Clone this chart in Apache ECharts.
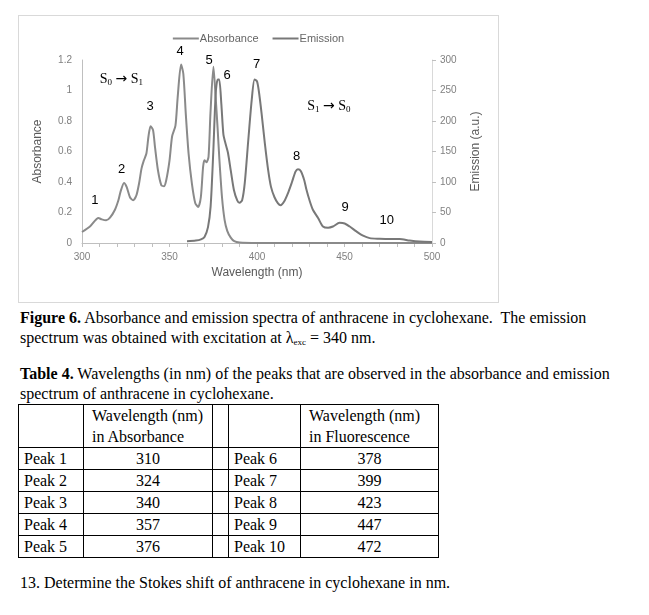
<!DOCTYPE html>
<html><head><meta charset="utf-8">
<script src="https://cdn.jsdelivr.net/npm/echarts@6/dist/echarts.min.js"></script>
<style>
body{margin:0;background:#fff;width:649px;height:615px;overflow:hidden;position:relative;font-family:"Liberation Serif","Times New Roman",serif;color:#000}
#box{position:absolute;left:18px;top:15px;width:479px;height:286px;border:1px solid #d9d9d9;}
#chart{position:absolute;left:18px;top:15px;width:481px;height:288px;}
.txt{position:absolute;left:20px;font-size:16px;line-height:20px;white-space:nowrap}
table{position:absolute;left:18px;top:404px;border-collapse:collapse;table-layout:fixed;width:420px;font-size:16px}
td{border:1px solid #000;padding:0 5px;height:21px;line-height:20px;white-space:nowrap}
td.h{padding-left:8px;line-height:21px}
td.c{text-align:center}
sub.e{font-size:9px;vertical-align:-2px}
</style></head>
<body>
<div id="box"></div>
<div id="chart"></div>
<div class="txt" style="top:308px"><b>Figure 6.</b> Absorbance and emission spectra of anthracene in cyclohexane.&nbsp; The emission<br>spectrum was obtained with excitation at λ<sub class="e">exc</sub> = 340 nm.</div>
<div class="txt" style="top:364px"><b>Table 4.</b> Wavelengths (in nm) of the peaks that are observed in the absorbance and emission<br>spectrum of anthracene in cyclohexane.</div>
<table id="tbl">
<colgroup><col style="width:65px"><col style="width:129px"><col style="width:16px"><col style="width:72px"><col style="width:138px"></colgroup>
</table>
<div class="txt" style="top:573px">13. Determine the Stokes shift of anthracene in cyclohexane in nm.</div>
<script>
// ---- data ----
const absX = [300,304.7,309.4,311.3,313.8,316,318.9,320.8,322,324,325.5,327.4,329.2,331.1,332.6,334,335.3,336.8,338,339.2,340.6,341.7,343.4,345.3,346.8,348.1,350,351.5,353.4,354.7,356.6,357.9,359.4,360.9,362.8,364.7,366.4,367.9,369.2,370,371.1,372.3,373.4,375.1,376.4,377.5,378.5,380,381.5,383,385,387,390,400,450,500];
const absY = [0.072,0.11,0.164,0.155,0.149,0.166,0.22,0.28,0.335,0.394,0.368,0.30,0.28,0.313,0.39,0.488,0.54,0.587,0.70,0.766,0.74,0.63,0.477,0.38,0.372,0.41,0.54,0.70,0.77,0.96,1.17,1.11,0.83,0.587,0.39,0.263,0.236,0.30,0.50,0.543,0.53,0.565,0.85,1.156,0.95,0.75,0.55,0.30,0.15,0.08,0.035,0.012,0.003,0,0,0];
const emX = [360,365,368,370,372,373.5,375,376.4,377.5,378.4,379.6,380.8,382,383.4,385,386.8,388.7,390,391.5,393,395,397,398.6,400,401,402.6,404.5,406.4,408,410,412,413.5,415.5,418,420,422,423.4,425,427,428.2,430,432,434.9,437.7,440.6,443.4,447.2,450.1,453,456.8,460.6,464.4,470,475.8,481.5,487.2,492.9,500];
const emY = [3,4,6,10,26,60,148,245,268,268,229,178,163,148,119,87,70,66,70,98,168,235,268,265,250,213,163,119,92,75,65,62,68,84,100,117,121,118,103,88,70,54,41,27,25,27,33,32,27,19,12,8,7,6.5,6.5,4,2.3,1.8];
const seriesNames = ['Absorbance','Emission'];
const peakLabels = ['1','2','3','4','5','6','7','8','9','10'];
const peakLabelX = [307.4,322.7,338.9,356,372.6,382.9,399.8,422.7,450.3,474.1];
const peakLabelY = [0.282,0.485,0.894,1.259,1.195,1.097,1.172,0.566,0.231,0.146];
const transLabels = ['S{s|0} {a|→} S{s|1}','S{s|1} {a|→} S{s|0}'];
const transX = [322.5,441.1];
const transY = [1.073,0.894];
const tblPeaksA = ['Peak 1','Peak 2','Peak 3','Peak 4','Peak 5'];
const tblValsA = [310,324,340,357,376];
const tblPeaksF = ['Peak 6','Peak 7','Peak 8','Peak 9','Peak 10'];
const tblValsF = [378,399,423,447,472];

// ---- table ----
const tbl = document.getElementById('tbl');
let html = '<tr><td></td><td class="h">Wavelength (nm)<br>in Absorbance</td><td></td><td></td><td class="h">Wavelength (nm)<br>in Fluorescence</td></tr>';
for (let i=0;i<tblPeaksA.length;i++){
  html += '<tr><td>'+tblPeaksA[i]+'</td><td class="c">'+tblValsA[i]+'</td><td></td><td>'+tblPeaksF[i]+'</td><td class="c">'+tblValsF[i]+'</td></tr>';
}
tbl.insertAdjacentHTML('beforeend', html);

// ---- chart ----
const chart = echarts.init(document.getElementById('chart'), null, {renderer:'canvas'});
const lblFont = '"Liberation Sans", Arial, sans-serif';
const axisLblColor = '#808080';
chart.setOption({
  animation:false,
  backgroundColor:'transparent',
  legend:{
    top:13, left:'center', itemWidth:26, itemHeight:2, itemGap:14, icon:'rect',
    textStyle:{fontFamily:lblFont,fontSize:11,color:'#666',padding:[0,0,0,-4]},
    data:seriesNames
  },
  grid:{left:64,right:67,top:45,bottom:60},
  xAxis:{
    type:'value',min:300,max:500,interval:50,
    name:'Wavelength (nm)',nameLocation:'middle',nameGap:24,
    nameTextStyle:{fontFamily:lblFont,fontSize:12,color:'#595959'},
    axisLine:{lineStyle:{color:'#bfbfbf',width:1}},
    axisTick:{show:true,length:4,lineStyle:{color:'#bfbfbf'}},
    minorTick:{show:true,splitNumber:5,length:4,lineStyle:{color:'#bfbfbf'}},
    axisLabel:{fontFamily:lblFont,fontSize:10,color:axisLblColor,margin:9},
    splitLine:{show:false}
  },
  yAxis:[{
    type:'value',min:0,max:1.2,interval:0.2,
    name:'Absorbance',nameLocation:'middle',nameGap:38,nameRotate:90,
    nameTextStyle:{fontFamily:lblFont,fontSize:12,color:'#595959'},
    axisLine:{show:true,lineStyle:{color:'#bfbfbf',width:1}},
    axisTick:{show:false},
    axisLabel:{fontFamily:lblFont,fontSize:10,color:axisLblColor,margin:10},
    splitLine:{show:false}
  },{
    type:'value',min:0,max:300,interval:50,position:'right',
    name:'Emission (a.u.)',nameLocation:'middle',nameGap:38,nameRotate:90,
    nameTextStyle:{fontFamily:lblFont,fontSize:12,color:'#595959'},
    axisLine:{show:true,lineStyle:{color:'#d9d9d9',width:1}},
    axisTick:{show:true,length:4,lineStyle:{color:'#bfbfbf'}},
    axisLabel:{fontFamily:lblFont,fontSize:10,color:axisLblColor,margin:8},
    splitLine:{show:false}
  }],
  series:[{
    name:seriesNames[0],type:'line',yAxisIndex:0,showSymbol:false,smooth:0.25,
    lineStyle:{color:'#8a8a8a',width:2},itemStyle:{color:'#8a8a8a'},
    data:absX.map((x,i)=>[x,absY[i]])
  },{
    name:seriesNames[1],type:'line',yAxisIndex:1,showSymbol:false,smooth:0.25,
    lineStyle:{color:'#787878',width:2},itemStyle:{color:'#787878'},
    data:emX.map((x,i)=>[x,emY[i]])
  }]
});
const g = [];
peakLabels.forEach((t,i)=>{
  const p = chart.convertToPixel({xAxisIndex:0,yAxisIndex:0},[peakLabelX[i],peakLabelY[i]]);
  g.push({type:'text',x:p[0],y:p[1],style:{text:t,fontFamily:lblFont,fontSize:13,fill:'#000',align:'center',verticalAlign:'middle'}});
});
transLabels.forEach((t,i)=>{
  const p = chart.convertToPixel({xAxisIndex:0,yAxisIndex:0},[transX[i],transY[i]]);
  g.push({type:'text',x:p[0],y:p[1],style:{text:t,fontFamily:'"Liberation Serif", serif',fontSize:14,fill:'#000',align:'center',verticalAlign:'middle',
    rich:{s:{fontSize:9,fontFamily:'"Liberation Serif", serif',verticalAlign:'bottom',padding:[6,0,0,0]},
          a:{fontSize:14,fontFamily:'"DejaVu Sans", sans-serif'}}}});
});
chart.setOption({graphic:g});
</script>
</body></html>
